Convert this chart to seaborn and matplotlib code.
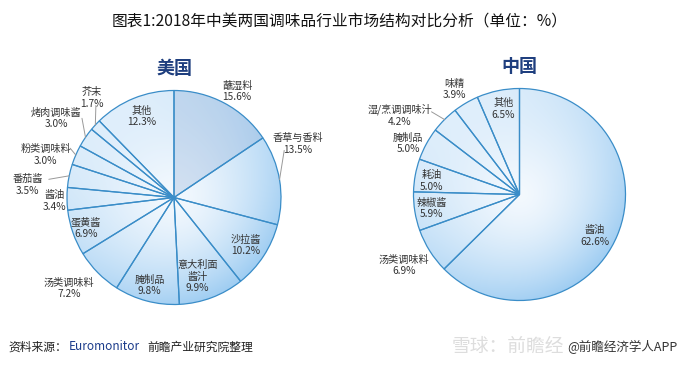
import numpy as np
import matplotlib
matplotlib.use("Agg")
import matplotlib.pyplot as plt
import seaborn as sns
from matplotlib.colors import to_rgb
from matplotlib.patches import Circle

# data (%)
us_labels = ["蘸湿料", "香草与香料", "沙拉酱", "意大利面\n酱汁", "腌制品", "汤类调味料",
             "蛋黄酱", "酱油", "番茄酱", "粉类调味料", "烤肉调味酱", "芥末", "其他"]
us_values = [15.6, 13.5, 10.2, 9.9, 9.8, 7.2, 6.9, 3.4, 3.5, 3.0, 3.0, 1.7, 12.3]

cn_labels = ["酱油", "汤类调味料", "辣椒酱", "耗油", "腌制品", "湿/烹调调味汁", "味精", "其他"]
cn_values = [62.6, 6.9, 5.9, 5.0, 5.0, 4.2, 3.9, 6.5]

# label placement in pie-radius units, plus leader line starts
us_pos = [(0.59, 0.99), (1.16, 0.50), (0.67, -0.45), (0.22, -0.74), (-0.23, -0.82),
          (-0.98, -0.85), (-0.82, -0.29), (-1.12, -0.03), (-1.37, 0.12), (-1.20, 0.40),
          (-1.10, 0.74), (-0.77, 0.93), (-0.30, 0.76)]
us_lead = {1: (1.03, 0.44), 8: (-1.17, 0.17), 9: (-0.97, 0.46), 10: (-0.86, 0.74), 11: (-0.73, 0.86)}
cn_pos = [(0.71, -0.39), (-1.09, -0.67), (-0.83, -0.13), (-0.83, 0.13), (-1.05, 0.48),
          (-1.13, 0.75), (-0.61, 0.99), (-0.15, 0.81)]
cn_lead = {5: (-0.83, 0.78)}

sns.set_theme(style="white")
plt.rcParams['font.family'] = ['Noto Sans CJK SC', 'DejaVu Sans']

EDGE = "#3a8dc8"
TXT = "#333333"


def gradient(ax):
    n = 300
    g = np.linspace(-1, 1, n)
    x, y = np.meshgrid(g, g)
    r = np.clip(np.hypot(x, y), 0, 1)
    s = np.clip(0.6 * x - 0.8 * y, -1, 1)
    t = np.clip(r ** 1.3 * (0.62 + 0.38 * s), 0, 1)
    c0 = np.array(to_rgb("#f4f9fe"))
    c1 = np.array(to_rgb("#9fcdf2"))
    img = c0 + (c1 - c0) * t[..., None]
    im = ax.imshow(img, extent=(-1, 1, -1, 1), origin="lower", zorder=0)
    circ = Circle((0, 0), 1, transform=ax.transData)
    im.set_clip_path(circ)


def draw_pie(ax, values, labels, pos, lead, colors):
    gradient(ax)
    wedges, _ = ax.pie(values, startangle=90, counterclock=False, colors=colors,
                       wedgeprops=dict(edgecolor=EDGE, linewidth=0.9))
    for w in wedges:
        w.set_zorder(1)
    total = sum(values)
    cum = 0.0
    for i, (lab, v) in enumerate(zip(labels, values)):
        mid = np.deg2rad(90 - 360 * (cum + v / 2) / total)
        cum += v
        px, py = pos[i]
        ax.text(px, py, f"{lab}\n{v:.1f}%", ha="center", va="center",
                fontsize=7.3, color=TXT, linespacing=1.2, zorder=3)
        if i in lead:
            sx, sy = lead[i]
            ax.plot([sx, np.cos(mid)], [sy, np.sin(mid)], color="#999999", lw=0.7, zorder=2)
    ax.set_xlim(-1.5, 1.5)
    ax.set_ylim(-1.5, 1.5)
    ax.set_aspect("equal")
    ax.axis("off")


fig = plt.figure(figsize=(6.8, 3.65), dpi=100)

clear = (1, 1, 1, 0)
us_colors = [(0.5, 0.64, 0.82, 0.28)] + [clear] * (len(us_values) - 1)
cn_colors = [clear] * len(cn_values)

ax1 = fig.add_axes([13.5 / 680, 7 / 365, 321 / 680, 321 / 365])
draw_pie(ax1, us_values, us_labels, us_pos, us_lead, us_colors)
ax2 = fig.add_axes([360.5 / 680, 11.5 / 365, 318 / 680, 318 / 365])
draw_pie(ax2, cn_values, cn_labels, cn_pos, cn_lead, cn_colors)

fig.text(0.5, 1 - 22 / 365, "图表1:2018年中美两国调味品行业市场结构对比分析（单位：%）",
         ha="center", va="center", fontsize=11.3, color="#111111")
fig.text(175 / 680, 1 - 68 / 365, "美国", ha="center", va="center",
         fontsize=13, fontweight="bold", color="#1f3f7f")
fig.text(519 / 680, 1 - 67 / 365, "中国", ha="center", va="center",
         fontsize=13, fontweight="bold", color="#1f3f7f")

# footer
t1 = fig.text(8 / 680, 1 - 347 / 365, "资料来源：", ha="left", va="center",
              fontsize=8.5, color="#222222", style="italic")
t2 = fig.text(0, 0, "Euromonitor", ha="left", va="center", fontsize=8.5,
              color="#1a3a8a", style="italic")
fig.canvas.draw()
bb = t1.get_window_extent()
t2.set_position(((bb.x1 + 2) / fig.bbox.width, 1 - 347 / 365))
fig.canvas.draw()
bb2 = t2.get_window_extent()
fig.text((bb2.x1 + 8) / fig.bbox.width, 1 - 347 / 365, "前瞻产业研究院整理", ha="left",
         va="center", fontsize=8.5, color="#222222")

# faint watermark, then the account name
fig.text(452 / 680, 1 - 346 / 365, "雪球：前瞻经", ha="left", va="center",
         fontsize=13.5, color="#dddddd")
fig.text(678 / 680, 1 - 347 / 365, "@前瞻经济学人APP", ha="right", va="center",
         fontsize=9, color="#333333")

fig.savefig("out.png", dpi=100)
